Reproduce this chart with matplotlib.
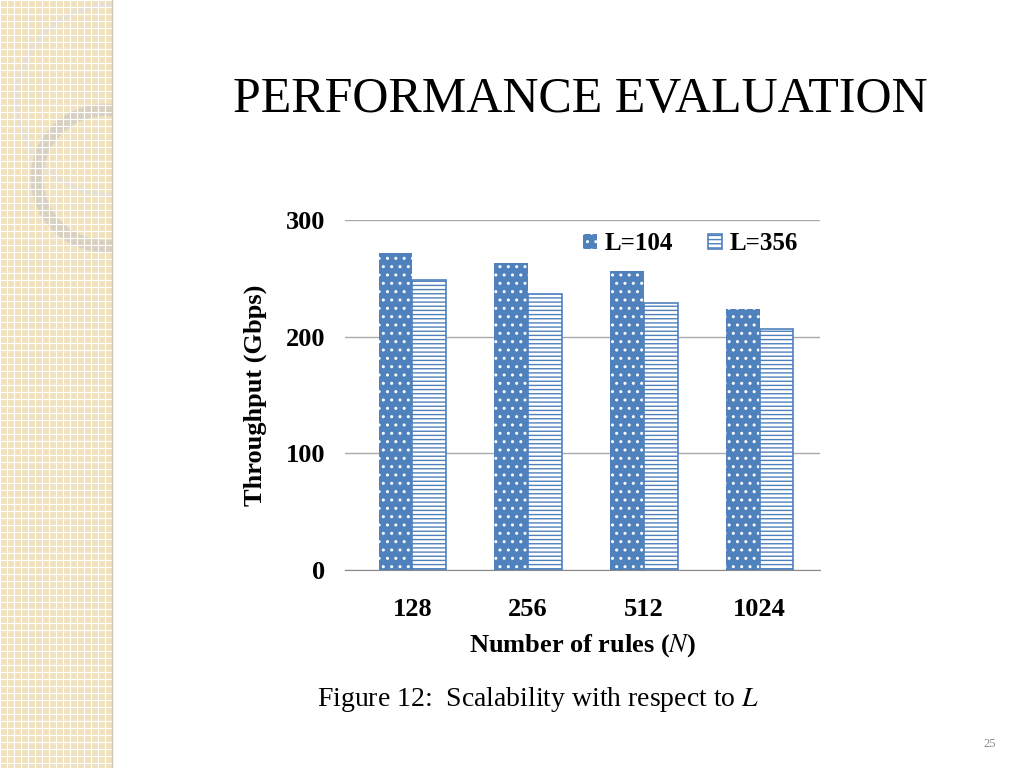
import matplotlib
matplotlib.use("Agg")
import matplotlib.pyplot as plt
from matplotlib.patches import Rectangle, Circle
import numpy as np

categories = ["128", "256", "512", "1024"]
l104 = [272, 263, 256, 224]
l356 = [249, 237, 229, 207]
yticks = [0, 100, 200, 300]

plt.rcParams["font.family"] = "Liberation Serif"
plt.rcParams["mathtext.fontset"] = "stix"
plt.rcParams["hatch.linewidth"] = 1.0

fig = plt.figure(figsize=(10.24, 7.68), dpi=100)
fig.patch.set_facecolor("white")

# left decorative panel
bg = fig.add_axes([0, 0, 112/1024, 1])
bg.set_xlim(0, 112); bg.set_ylim(768, 0)
bg.add_patch(Rectangle((0, 0), 112, 768, color="#f1e2bd"))
for v in np.arange(0, 112, 7):
    bg.axvline(v, color="white", lw=0.8)
for v in np.arange(0, 768, 7):
    bg.axhline(v, color="white", lw=0.8)
bg.add_patch(Circle((112, 100), 95, fill=False, ec="#e6dfd2", lw=3))
bg.add_patch(Circle((105, 178), 68, fill=False, ec="#d8d0c0", lw=9))
bg.axis("off")
fig.add_artist(plt.Line2D([112/1024, 112/1024], [0, 1], color="#cfc7b5", lw=1))

fig.text(580/1024, 1 - 100/768, "PERFORMANCE EVALUATION", ha="center", va="center", fontsize=36)
fig.text(538/1024, 1 - 700/768, "Figure 12:  Scalability with respect to $L$", ha="center", va="center", fontsize=20)
fig.text(990/1024, 1 - 744/768, "25", ha="center", va="center", fontsize=9, color="#888888")

ax = fig.add_axes([345/1024, 1 - 570/768, 475/1024, 350/768])
x = np.arange(len(categories))
w = 0.29
ax.bar(x - w/2, l104, w, color="#4f81bd", hatch="..", edgecolor="white", lw=0, label="L=104", zorder=3)
ax.bar(x + w/2, l356, w, color="white", hatch="----", edgecolor="#4f81bd", lw=1.2, label="L=356", zorder=3)
ax.set_xlim(-0.58, 3.52)
ax.set_ylim(0, 300)
ax.set_yticks(yticks)
ax.set_xticks(x)
ax.set_xticklabels(categories)
ax.yaxis.grid(True, color="#aaaaaa", lw=1, zorder=0)
for s in ["top", "right", "left"]:
    ax.spines[s].set_visible(False)
ax.spines["bottom"].set_color("#888888")
ax.tick_params(axis="x", length=0, labelsize=19, pad=20)
ax.tick_params(axis="y", length=0, labelsize=19, pad=14)
for t in ax.get_xticklabels() + ax.get_yticklabels():
    t.set_fontweight("bold")
ax.set_ylabel("Throughput (Gbps)", fontsize=19, fontweight="bold", labelpad=14)
ax.set_xlabel(r"Number of rules ($\mathbf{\mathit{N}}$)", fontsize=19, fontweight="bold", labelpad=8)
leg = ax.legend(loc="upper right", ncol=2, frameon=False, prop={"weight": "bold", "size": 18},
                handlelength=0.55, handleheight=0.55, columnspacing=1.4, handletextpad=0.3,
                bbox_to_anchor=(1.0, 1.03))
fig.savefig("out.png", dpi=100)
